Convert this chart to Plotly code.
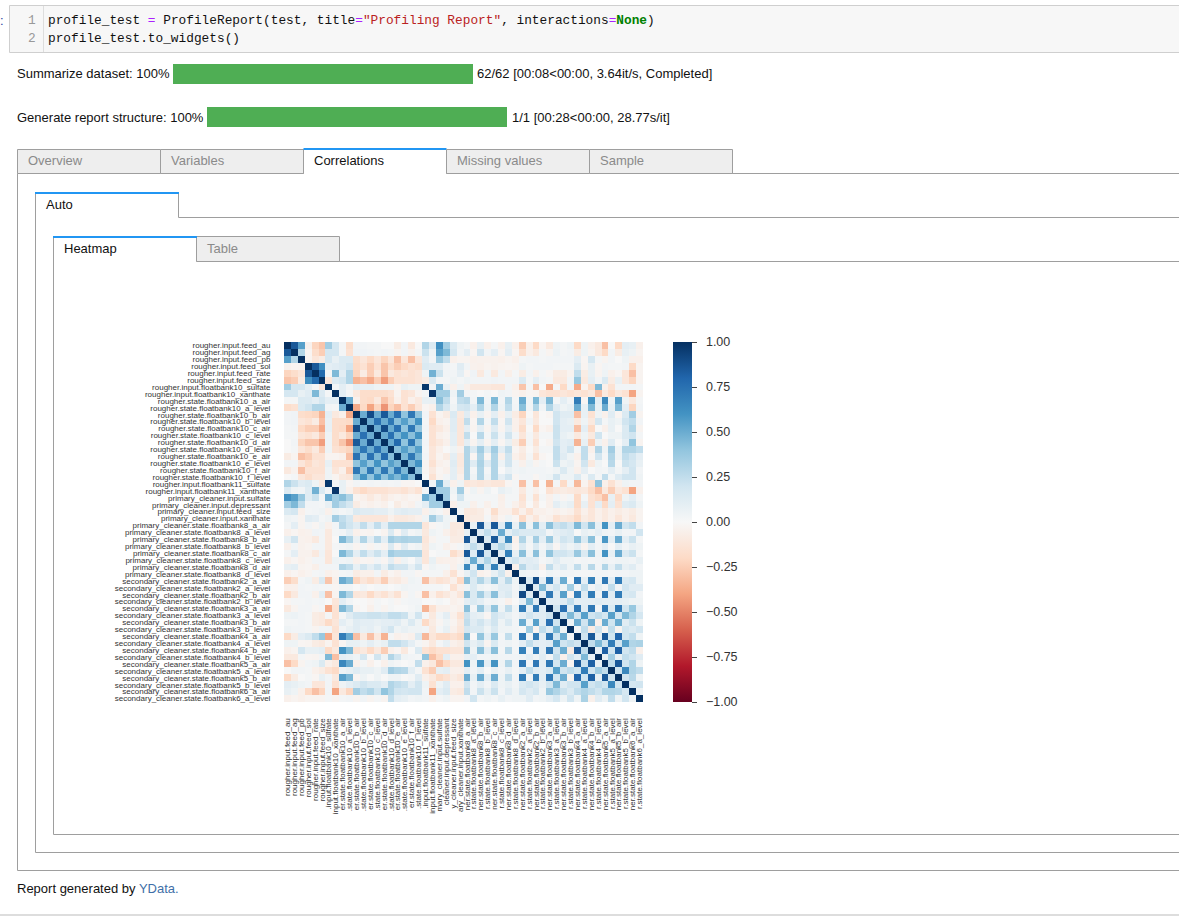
import plotly.graph_objects as go

WIDTH = 1179
HEIGHT = 917

# row labels of the correlation matrix
y_labels = [
    'rougher.input.feed_au', 'rougher.input.feed_ag', 'rougher.input.feed_pb', 'rougher.input.feed_sol',
    'rougher.input.feed_rate', 'rougher.input.feed_size', 'rougher.input.floatbank10_sulfate',
    'rougher.input.floatbank10_xanthate', 'rougher.state.floatbank10_a_air', 'rougher.state.floatbank10_a_level',
    'rougher.state.floatbank10_b_air', 'rougher.state.floatbank10_b_level', 'rougher.state.floatbank10_c_air',
    'rougher.state.floatbank10_c_level', 'rougher.state.floatbank10_d_air', 'rougher.state.floatbank10_d_level',
    'rougher.state.floatbank10_e_air', 'rougher.state.floatbank10_e_level', 'rougher.state.floatbank10_f_air',
    'rougher.state.floatbank10_f_level', 'rougher.input.floatbank11_sulfate', 'rougher.input.floatbank11_xanthate',
    'primary_cleaner.input.sulfate', 'primary_cleaner.input.depressant', 'primary_cleaner.input.feed_size',
    'primary_cleaner.input.xanthate', 'primary_cleaner.state.floatbank8_a_air', 'primary_cleaner.state.floatbank8_a_level',
    'primary_cleaner.state.floatbank8_b_air', 'primary_cleaner.state.floatbank8_b_level',
    'primary_cleaner.state.floatbank8_c_air', 'primary_cleaner.state.floatbank8_c_level',
    'primary_cleaner.state.floatbank8_d_air', 'primary_cleaner.state.floatbank8_d_level',
    'secondary_cleaner.state.floatbank2_a_air', 'secondary_cleaner.state.floatbank2_a_level',
    'secondary_cleaner.state.floatbank2_b_air', 'secondary_cleaner.state.floatbank2_b_level',
    'secondary_cleaner.state.floatbank3_a_air', 'secondary_cleaner.state.floatbank3_a_level',
    'secondary_cleaner.state.floatbank3_b_air', 'secondary_cleaner.state.floatbank3_b_level',
    'secondary_cleaner.state.floatbank4_a_air', 'secondary_cleaner.state.floatbank4_a_level',
    'secondary_cleaner.state.floatbank4_b_air', 'secondary_cleaner.state.floatbank4_b_level',
    'secondary_cleaner.state.floatbank5_a_air', 'secondary_cleaner.state.floatbank5_a_level',
    'secondary_cleaner.state.floatbank5_b_air', 'secondary_cleaner.state.floatbank5_b_level',
    'secondary_cleaner.state.floatbank6_a_air', 'secondary_cleaner.state.floatbank6_a_level',
]

# the column labels are cut off at the bottom of the picture
x_labels = [
    'rougher.input.feed_au', 'rougher.input.feed_ag', 'rougher.input.feed_pb', 'rougher.input.feed_sol',
    'rougher.input.feed_rate', 'rougher.input.feed_size', '.input.floatbank10_sulfate',
    'input.floatbank10_xanthate', 'er.state.floatbank10_a_air', '.state.floatbank10_a_level',
    'er.state.floatbank10_b_air', '.state.floatbank10_b_level', 'er.state.floatbank10_c_air',
    '.state.floatbank10_c_level', 'er.state.floatbank10_d_air', '.state.floatbank10_d_level',
    'er.state.floatbank10_e_air', '.state.floatbank10_e_level', 'er.state.floatbank10_f_air',
    '.state.floatbank10_f_level', '.input.floatbank11_sulfate', 'input.floatbank11_xanthate',
    'mary_cleaner.input.sulfate', 'cleaner.input.depressant', 'y_cleaner.input.feed_size',
    'ary_cleaner.input.xanthate', 'ner.state.floatbank8_a_air', 'r.state.floatbank8_a_level',
    'ner.state.floatbank8_b_air', 'r.state.floatbank8_b_level', 'ner.state.floatbank8_c_air',
    'r.state.floatbank8_c_level', 'ner.state.floatbank8_d_air', 'r.state.floatbank8_d_level',
    'ner.state.floatbank2_a_air', 'r.state.floatbank2_a_level', 'ner.state.floatbank2_b_air',
    'r.state.floatbank2_b_level', 'ner.state.floatbank3_a_air', 'r.state.floatbank3_a_level',
    'ner.state.floatbank3_b_air', 'r.state.floatbank3_b_level', 'ner.state.floatbank4_a_air',
    'r.state.floatbank4_a_level', 'ner.state.floatbank4_b_air', 'r.state.floatbank4_b_level',
    'ner.state.floatbank5_a_air', 'r.state.floatbank5_a_level', 'ner.state.floatbank5_b_air',
    'r.state.floatbank5_b_level', 'ner.state.floatbank6_a_air', 'r.state.floatbank6_a_level',
]

# upper triangle of the matrix in hundredths, each row starts on the diagonal
corr_upper = [
    [100, 85, 55, -4, -22, -28, 35, 18, 2, -18, 3, 3, 2, 2, 0, 0, -8, 3, -10, 0, 30, 14, 62, 35, 15, 5,
     2, -5, 8, -5, 2, -5, 8, -5, -25, -5, -20, -2, -10, 5, 2, 5, -20, 5, -5, -10, -30, 0, -20, 10, 8, -5],
    [100, 30, -2, -18, -25, 18, 18, 2, -15, 4, 4, 3, 2, 3, 2, -3, 3, -4, 2, 22, 5, 55, 45, 18, 3,
     10, -2, 20, 3, 10, -2, 10, -2, -18, -5, -10, 2, -3, 6, 2, 3, -8, 5, -3, -10, -20, 3, -8, 8, 5, -3],
    [100, -3, -12, -8, 18, 8, 15, 15, -18, -12, -20, -12, -22, -12, -30, -12, -30, -12, 12, 3, 38, 25, -5, -3,
     -3, -5, -4, -4, -4, -5, -3, -5, 2, 3, 3, 2, 3, 3, 3, 3, 10, -2, 18, 2, -3, 3, 0, 5, -5, -5],
    [100, 85, 62, 10, 12, 14, 20, -20, -15, -25, -15, -28, -18, -25, -20, -15, -18, 15, 12, 12, 3, 2, 12,
     3, -4, -5, -3, -4, -3, -2, -3, 5, 2, 3, 3, 3, 2, 2, 2, 15, -3, 8, -2, 3, 2, 2, 3, -20, -3],
    [100, 78, 2, 45, 10, 30, -22, -8, -25, -10, -28, -10, -15, -12, -15, -12, 5, 48, 22, 3, 3, 10,
     -2, 4, -10, 3, -10, 3, -6, 2, -8, 3, -5, 2, -2, -8, -8, -3, 25, -8, 8, -3, 5, -5, -2, -12, -30, -3],
    [100, -12, 14, 18, 30, -35, -30, -38, -25, -42, -25, -15, -15, -15, -12, -8, 15, 2, 2, 5, 2,
     5, 3, 3, 3, 4, 3, 3, 3, 15, 2, 10, 3, 2, -10, -10, 3, 38, -10, 10, 3, 15, -8, 8, -12, -22, -3],
    [100, 2, 10, 3, 10, 8, 8, 5, 5, 5, -3, 8, 5, 5, 97, 3, 50, 8, -5, 5,
     -5, -10, -10, -10, -12, -12, 3, -5, -28, 2, -30, 0, -38, 2, -20, 3, -38, -3, -20, 45, -5, -15, 3, 3, 3, 2],
    [100, 10, 2, -10, -18, -18, -18, -18, -15, -3, -15, -12, -3, 2, 98, 35, 35, 5, 35,
     3, 2, 0, 2, 0, 5, 3, -3, -5, -2, -3, -12, -15, -15, -12, -15, -12, -15, -10, -30, -10, -20, -10, -15, -40, -3],
    [100, 50, -5, -18, -20, -10, -28, -18, -5, -15, -5, -10, 8, 8, 42, 25, 2, 25,
     28, 3, 45, 3, 45, 3, 30, 2, 50, 3, 45, 10, 45, 2, 10, 3, 70, -2, 60, 10, 65, 5, 55, 5, -10, 2],
    [100, -38, -20, -40, -22, -45, -22, -30, -15, -25, -12, -2, -5, 30, 18, 5, 18,
     20, 10, 30, 5, 30, 5, 25, 3, 42, 3, 30, 3, 30, 12, 5, 8, 50, 8, 45, 8, 50, 8, 45, 10, -22, 3],
    [100, 50, 90, 50, 85, 50, 75, 40, 72, 40, 3, -15, -3, -8, 15, -10,
     12, -5, 8, -3, 10, -5, 8, -8, -22, 0, -12, 0, -2, 20, 12, 12, -30, 8, -15, 5, -5, 12, -2, 15, 35, -3],
    [100, 50, 75, 50, 72, 42, 55, 40, 60, 2, -20, -5, -3, 12, -12,
     25, -2, 30, 2, 25, -2, 20, -5, -12, 3, -10, 0, 0, 20, 10, 8, -10, 5, -10, 18, 2, 8, 5, 20, 25, 3],
    [100, 50, 90, 50, 75, 40, 72, 40, 3, -15, -10, -5, 12, -12,
     10, -3, 10, -3, 12, -3, 10, -5, -18, 0, -20, -2, -5, 22, 10, 10, -30, 10, -20, 0, -5, 8, 0, 15, 30, -3],
    [100, 50, 75, 45, 60, 42, 60, 2, -15, -5, -3, 10, -12,
     25, 0, 28, 2, 22, 3, 20, 3, -12, 2, -10, 2, 2, 22, 8, 5, -10, 5, -10, 20, 0, 5, 5, 15, 20, 2],
    [100, 50, 78, 40, 72, 40, 3, -15, -10, -5, 10, -12,
     10, -3, 10, -3, 10, -2, 8, -8, -25, 2, -15, 0, -3, 20, 10, 12, -35, 8, -25, 5, -5, 12, 0, 10, 40, -3],
    [100, 42, 55, 42, 55, 2, -12, -5, 0, 5, -5,
     30, 15, 35, 15, 35, 10, 25, -2, -8, 0, -8, 2, 2, 25, 10, 20, 2, 25, -5, 30, 5, 35, 5, 30, 30, 25],
    [100, 45, 72, 45, 3, -12, -3, -8, 10, -10,
     30, -2, 30, -2, 30, -5, 20, -5, -10, 2, -15, -2, 0, 25, 12, 5, -5, 25, -2, 20, 2, 30, 5, 25, 20, 10],
    [100, 45, 60, -2, -15, -5, -3, 12, -10,
     30, 12, 32, 12, 30, 5, 20, 3, -5, 5, -3, 2, 0, 22, 5, 8, -3, 20, -10, 5, 0, 28, 0, 22, 18, 8],
    [100, 42, -2, -10, -2, -5, 10, -8,
     30, 2, 30, 2, 30, 0, 8, 3, 5, 3, 3, 3, 2, 5, 15, 5, -5, 10, 0, 3, 2, 10, 2, 10, 20, 3],
    [100, 0, -15, -3, 3, 10, -5,
     30, 5, 30, 5, 30, 10, 20, -2, 3, 3, -2, 3, 5, 20, 5, 5, 15, 2, 15, 2, 25, 2, 12, 20, 20, 5],
    [100, 3, 50, 10, -5, 5,
     -12, -10, -12, -10, -12, -12, -2, 2, -30, 2, -30, 0, -35, 2, -20, 3, -33, -3, -15, 40, -5, -15, -5, 5, 3, 3],
    [100, 35, 35, 5, 35,
     -2, 5, -3, 5, 0, 8, 5, 2, -10, 2, -5, 0, -15, -10, -8, -10, -12, -10, -20, -30, -10, -25, -10, -15, -40, -5],
    [100, 35, 2, 20,
     2, 2, 2, 2, 2, -6, 2, 2, -15, 2, -15, 2, -5, 3, -2, 2, -20, 2, -15, -20, -30, 8, -20, 5, 10, 2],
    [100, -5, 5,
     5, -5, 2, -5, 2, -5, 2, -5, -12, 0, -10, 0, -5, 10, 5, 8, -20, 8, -15, 10, -20, 10, -15, 12, 15, 5],
    [100, 2,
     -10, -10, -8, -2, -18, -5, -5, -15, -5, -15, -5, -5, -3, -5, -3, -5, -15, -5, -12, -5, -10, -5, -8, -5, -8, -3],
    [100,
     -10, -8, -8, 2, -10, -3, 5, -2, -20, -5, -12, -3, -5, -15, -10, -12, -20, -8, -12, -5, -10, -5, -12, -5, -10, -3],
    [100, 8, 85, 12, 85, 12, 65, 8, 42, 5, 42, 10, 42, 22, 25, 18, 45, 20, 42, 8, 60, 10, 50, 20, 25, 3],
    [100, 12, 25, 12, 50, 10, 20, 15, 15, 15, 15, 3, 10, 12, 15, 0, 8, 5, 10, 5, 3, 8, 3, 3, 20],
    [100, 15, 85, 15, 65, -5, 30, 5, 35, 10, 38, 8, 20, 15, 40, 15, 42, 3, 58, 10, 50, 10, 22, 2],
    [100, 18, 30, 18, -3, 15, 2, 15, 3, 12, -2, 10, 5, 10, -3, 10, 3, 10, 0, 10, 3, 8, 5],
    [100, 12, 68, 8, 42, 5, 42, 5, 40, 20, 20, 15, 38, 15, 42, 5, 60, 8, 50, 15, 22, 2],
    [100, 12, 20, 10, 12, 10, 2, 5, 12, 5, 5, 2, 3, 2, 3, 5, 3, 5, 5, 3, 8],
    [100, -5, 28, 12, 15, -5, 25, 8, 15, 5, 25, 5, 28, 3, 30, 8, 25, 8, 12, 3],
    [100, 5, 3, 3, 0, 5, 3, 3, 3, 2, 2, 2, 3, 3, 2, 3, 3, 5, 5],
    [100, 15, 90, 10, 70, 10, 50, 0, 72, 10, 68, 5, 72, 10, 70, 15, 18, 5],
    [100, 12, 45, 10, 20, 5, 35, 3, 25, 3, 10, 3, 25, 3, 20, 12, 12],
    [100, 12, 72, 12, 55, -3, 70, 12, 70, 5, 72, 12, 70, 15, 18, 3],
    [100, 12, 12, 12, 25, 10, 10, 10, 12, 10, 10, 10, 8, 5, 5],
    [100, 20, 75, 12, 72, 12, 72, 3, 72, 15, 72, 20, 38, 10],
    [100, 20, 45, 20, 55, 20, 25, 18, 55, 18, 45, 30, 18],
    [100, 5, 50, 20, 50, -5, 50, 20, 50, 12, 22, 5],
    [100, 2, 25, -8, 20, -2, 25, -3, 20, 15, 20],
    [100, 20, 85, 10, 85, 20, 80, 20, 25, 5],
    [100, 25, 45, 22, 70, 20, 55, 30, 32],
    [100, 8, 82, 20, 82, 20, 25, -5],
    [100, 8, 35, 8, 25, 20, 12],
    [100, 25, 85, 20, 30, 5],
    [100, 20, 65, 30, 25],
    [100, 20, 28, 5],
    [100, 18, 20],
    [100, 5],
    [100],
]

# colour stops of the matplotlib RdBu map
colorscale_stops = ['#67001f', '#b2182b', '#d6604d', '#f4a582', '#fddbc7', '#f7f7f7',
                    '#d1e5f0', '#92c5de', '#4393c3', '#2166ac', '#053061']
colorbar_ticks = [1, 0.75, 0.5, 0.25, 0, -0.25, -0.5, -0.75, -1]
colorbar_labels = ['1.00', '0.75', '0.50', '0.25', '0.00', '\u22120.25', '\u22120.50', '\u22120.75', '\u22121.00']

progress_rows = [
    ('Summarize dataset: 100%', 74, 173, 473, '62/62 [00:08<00:00, 3.64it/s, Completed]', 477),
    ('Generate report structure: 100%', 117, 207, 507, '1/1 [00:28<00:00, 28.77s/it]', 512),
]
main_tabs = ['Overview', 'Variables', 'Correlations', 'Missing values', 'Sample']
main_tab_edges = [17.5, 160.5, 303.5, 446.5, 589.5, 732.5]
inner_tabs = ['Heatmap', 'Table']
inner_tab_edges = [53.5, 196.5, 339.5]

GREY = '#9e9e9e'
BLUE = '#2196f3'
SANS = 'Liberation Sans, Arial, sans-serif'
MONO = 'Liberation Mono, monospace'


def px(x):
    return x / WIDTH


def py(y):
    return 1 - y / HEIGHT


def box(x0, y0, x1, y1, fill='rgba(0,0,0,0)', line=GREY, width=1):
    return dict(type='rect', xref='paper', yref='paper', x0=px(x0), x1=px(x1), y0=py(y0), y1=py(y1),
                fillcolor=fill, line=dict(color=line, width=width), layer='below')


def seg(x0, y0, x1, y1, line=GREY, width=1):
    return dict(type='line', xref='paper', yref='paper', x0=px(x0), x1=px(x1), y0=py(y0), y1=py(y1),
                line=dict(color=line, width=width), layer='below')


def label(x, y, text, size=13, color='#111111', family=SANS):
    # annotations keep about 2px of padding around the text
    return dict(xref='paper', yref='paper', x=px(x - 2), y=py(y), text=text, showarrow=False, xanchor='left',
                yanchor='middle', align='left', font=dict(size=size, color=color, family=family))


# corr_upper is mirrored because a correlation matrix is symmetric
n = len(y_labels)
z = [[0] * n for _ in range(n)]
for r, row in enumerate(corr_upper):
    assert len(row) == n - r, r
    for k, v in enumerate(row):
        z[r][r + k] = v / 100
        z[r + k][r] = v / 100

scale = [[i / (len(colorscale_stops) - 1), c] for i, c in enumerate(colorscale_stops)]
fig = go.Figure(go.Heatmap(
    z=z, x=list(range(n)), y=list(range(n)), zmin=-1, zmax=1, colorscale=scale, hoverinfo='skip',
    colorbar=dict(x=px(673), xanchor='left', xpad=0, y=py(702), yanchor='bottom', ypad=0, thickness=19,
                  thicknessmode='pixels', len=360, lenmode='pixels', outlinewidth=0, tickvals=colorbar_ticks,
                  ticktext=['\u00a0\u00a0' + t for t in colorbar_labels], ticks='outside', ticklen=5, tickwidth=1,
                  tickcolor='#444444', tickfont=dict(size=12.5, color='#333333', family=SANS))))

shapes = []
annotations = []

# code cell
shapes.append(box(9.5, 5.5, 1185, 52.5, fill='#f7f7f7', line='#cfcfcf'))
shapes.append(seg(43.5, 6, 43.5, 52, line='#dddddd'))
annotations.append(label(0, 20, ':', size=13, color='#303f9f'))
annotations.append(label(28, 20, '1', size=12.8, color='#999999', family=MONO))
annotations.append(label(28, 38, '2', size=12.8, color='#999999', family=MONO))
annotations.append(label(48, 20, 'profile_test <span style="color:#aa22ff">=</span> ProfileReport(test, title'
                                 '<span style="color:#aa22ff">=</span><span style="color:#ba2121">"Profiling Report"</span>'
                                 ', interactions<span style="color:#aa22ff">=</span>'
                                 '<span style="color:#008000"><b>None</b></span>)', size=12.8, family=MONO))
annotations.append(label(48, 38, 'profile_test.to_widgets()', size=12.8, family=MONO))

# progress bars
for text_left, y, bar_start, bar_end, text_right, right_x in progress_rows:
    annotations.append(label(17, y, text_left))
    shapes.append(box(bar_start, y - 10, bar_end, y + 10, fill='#4fae54', line='#4fae54', width=0))
    annotations.append(label(right_x, y, text_right))

# outer tab panel
shapes.append(seg(17.5, 173.5, 17.5, 870.5))
shapes.append(seg(17.5, 870.5, 1179, 870.5))
shapes.append(seg(17.5, 173.5, 303.5, 173.5))
shapes.append(seg(446.5, 173.5, 1179, 173.5))
for i, name in enumerate(main_tabs):
    x0, x1 = main_tab_edges[i], main_tab_edges[i + 1]
    if name == 'Correlations':
        shapes.append(seg(x0, 173.5, x0, 149))
        shapes.append(seg(x1, 173.5, x1, 149))
        shapes.append(seg(x0, 149, x1, 149, line=BLUE, width=2))
        annotations.append(label(x0 + 10.5, 160.5, name))
    else:
        shapes.append(box(x0, 149.5, x1, 173.5, fill='#eeeeee'))
        annotations.append(label(x0 + 10.5, 160.5, name, color='#8a8a8a'))

# "Auto" panel
shapes.append(seg(35.5, 193, 35.5, 852.5))
shapes.append(seg(35.5, 852.5, 1179, 852.5))
shapes.append(seg(178.5, 193, 178.5, 217.5))
shapes.append(seg(178.5, 217.5, 1179, 217.5))
shapes.append(seg(35, 193, 179, 193, line=BLUE, width=2))
annotations.append(label(46, 204.5, 'Auto'))

# "Heatmap" panel
shapes.append(seg(53.5, 237, 53.5, 834.5))
shapes.append(seg(53.5, 834.5, 1179, 834.5))
shapes.append(seg(196.5, 261.5, 1179, 261.5))
shapes.append(box(inner_tab_edges[1], 236.5, inner_tab_edges[2], 261.5, fill='#eeeeee'))
shapes.append(seg(53, 237, 197, 237, line=BLUE, width=2))
annotations.append(label(64, 248.5, inner_tabs[0]))
annotations.append(label(207, 248.5, inner_tabs[1], color='#8a8a8a'))

# footer
annotations.append(label(17, 888, 'Report generated by <span style="color:#3f6fa8">YData.</span>'))
shapes.append(seg(0, 915, 1179, 915, line='#bbbbbb'))

tick_font = dict(size=8, color='#333333', family=SANS)
fig.update_layout(
    width=WIDTH, height=HEIGHT, margin=dict(l=0, r=0, t=0, b=0), autosize=False,
    paper_bgcolor='white', plot_bgcolor='white', shapes=shapes, annotations=annotations,
    xaxis=dict(domain=[px(284), px(643)], side='bottom', tickmode='array', tickvals=list(range(n)), ticktext=x_labels,
               tickangle=-90, tickfont=tick_font, ticks='outside', ticklen=12, tickcolor='rgba(0,0,0,0)',
               showgrid=False, zeroline=False, showline=False, automargin=False),
    yaxis=dict(domain=[py(702), py(342)], autorange='reversed', tickmode='array', tickvals=list(range(n)),
               ticktext=y_labels, tickfont=tick_font, ticks='outside', ticklen=11, tickcolor='rgba(0,0,0,0)',
               showgrid=False, zeroline=False, showline=False, automargin=False),
)

fig.write_html('out.html', config={'displayModeBar': False}, post_script="document.body.style.margin='0';")
